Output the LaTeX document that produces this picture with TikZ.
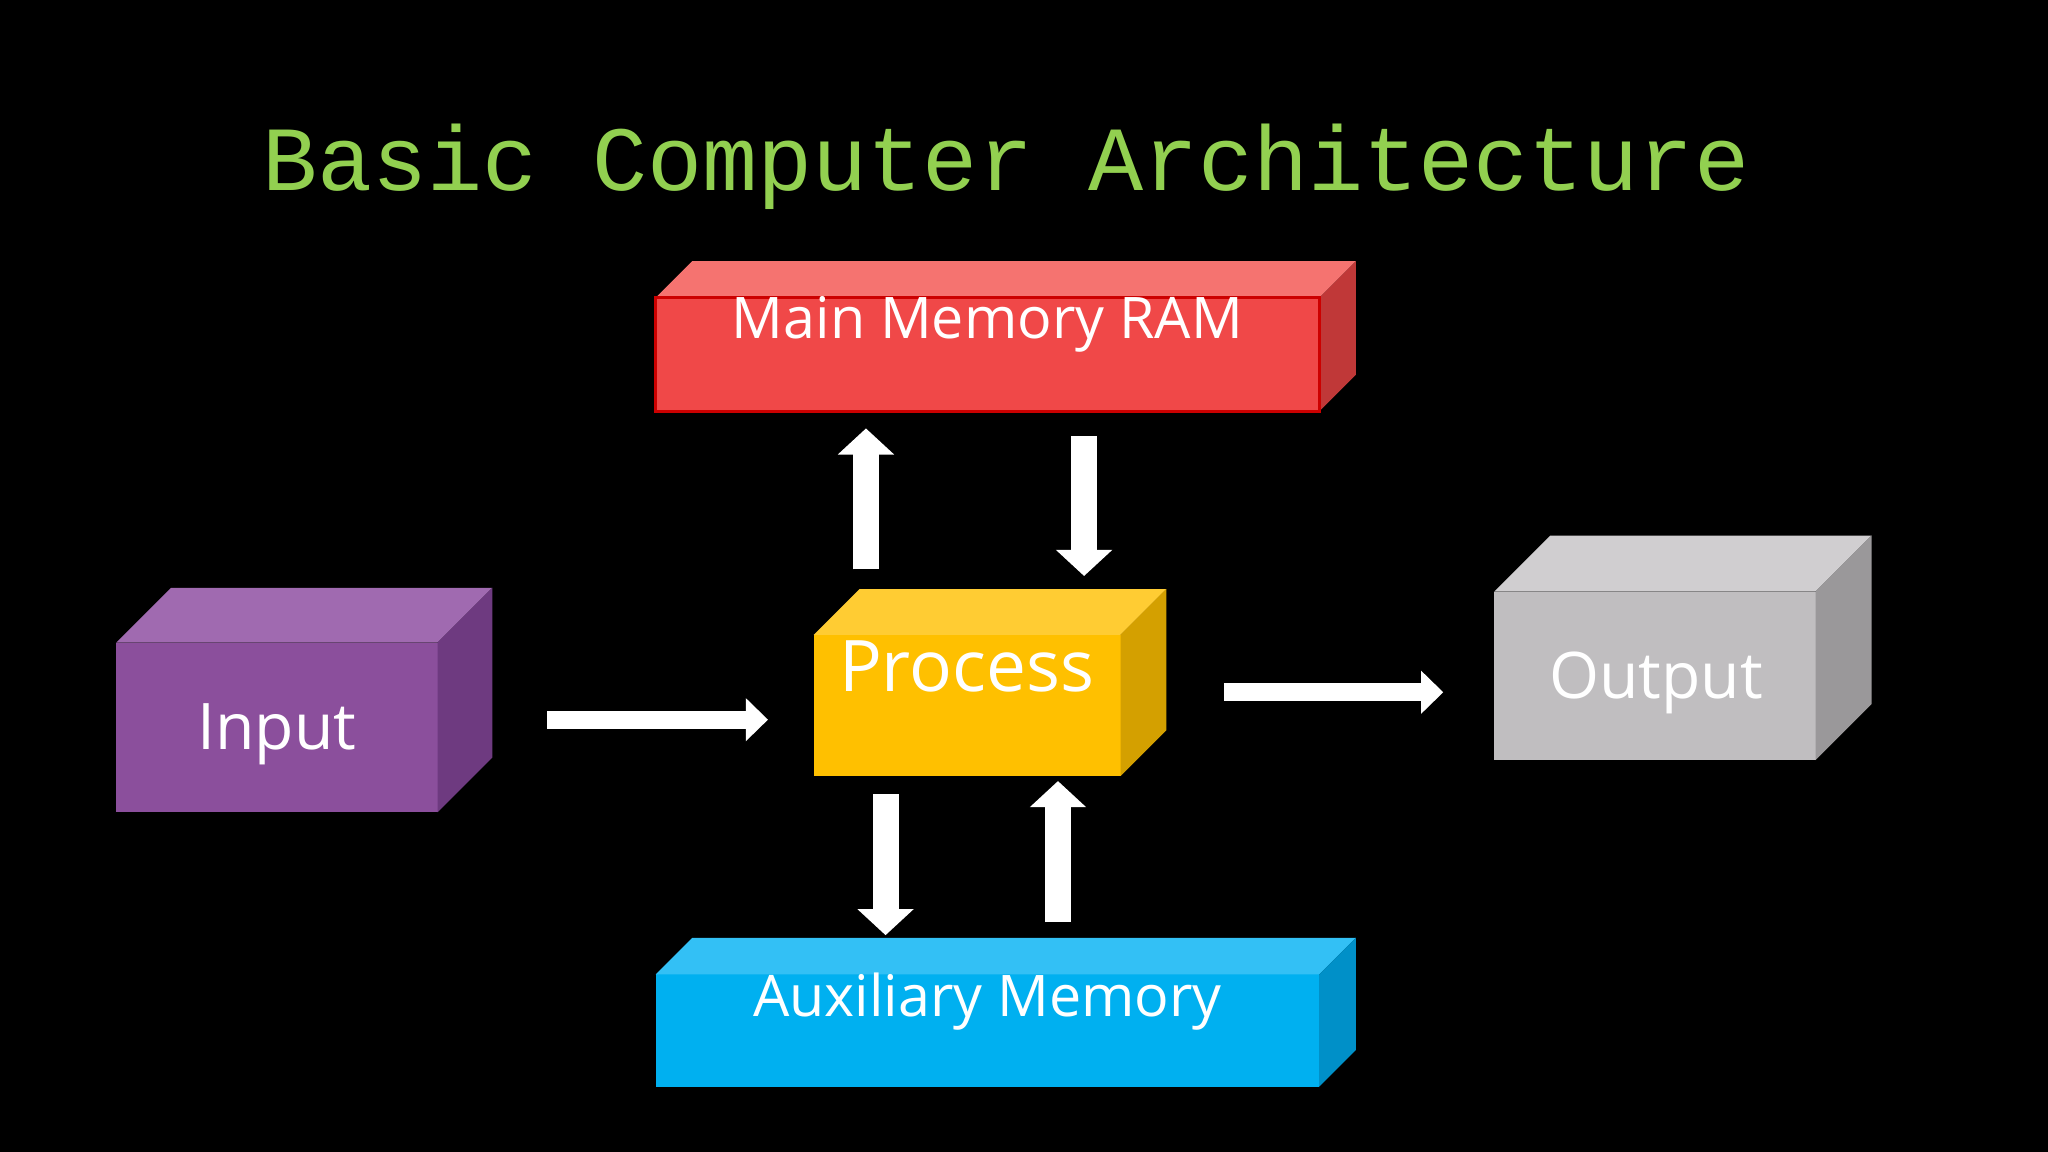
\documentclass[tikz,border=0pt]{standalone}
\usepackage{fontspec}
\setmainfont{Open Sans}
\newfontfamily\monof{Liberation Mono}
\usetikzlibrary{arrows.meta}
\definecolor{ttl}{HTML}{92D050}
\definecolor{rf}{RGB}{240,72,72}\definecolor{rt}{RGB}{245,115,112}\definecolor{rs}{RGB}{192,56,56}
\definecolor{yf}{RGB}{255,192,0}\definecolor{yt}{RGB}{255,204,51}\definecolor{ys}{RGB}{212,160,0}
\definecolor{pf}{RGB}{139,79,156}\definecolor{pt}{RGB}{160,106,176}\definecolor{ps}{RGB}{110,58,128}
\definecolor{gf}{RGB}{192,190,192}\definecolor{gt}{RGB}{208,206,208}\definecolor{gs}{RGB}{154,152,154}
\definecolor{bf}{RGB}{0,176,240}\definecolor{bt}{RGB}{51,192,245}\definecolor{bs}{RGB}{0,144,200}
\begin{document}
\begin{tikzpicture}[x=0.02cm,y=-0.02cm,
  lbl/.style={text=white,inner sep=0pt},
  varr/.style={white,line width=20*0.02cm,-{Triangle[width=0.84cm,length=0.4cm]}},
  harr/.style={white,line width=14*0.02cm,-{Triangle[width=0.64cm,length=0.34cm]}}]
\fill[black] (0,0) rectangle (1568,882);
\newcommand{\mybox}[8]{%
  \fill[#6] (#1,#2) rectangle (#3,#4);
  \fill[#7] (#1,#2) -- ++(#5,-#5) -- (#3+#5,#2-#5) -- (#3,#2) -- cycle;
  \fill[#8] (#3,#2) -- (#3+#5,#2-#5) -- (#3+#5,#4-#5) -- (#3,#4) -- cycle;}
\node[lbl,text=ttl,font=\monof\fontsize{40}{48}\selectfont] (title) at (770,128) {Basic Computer Architecture};
\mybox{502}{228}{1010}{315}{28}{rf}{rt}{rs}
\draw[red!80!black,line width=0.04cm] (502,228) rectangle (1010,315);
\node[lbl,font=\fontsize{25}{30}\selectfont] (ram) at (756,248) {Main Memory RAM};
\mybox{623}{486}{858}{594}{35}{yf}{yt}{ys}
\node[lbl,font=\fontsize{31}{36}\selectfont] (proc) at (740,510) {Process};
\mybox{89}{492}{335}{622}{42}{pf}{pt}{ps}
\node[lbl,font=\fontsize{28}{34}\selectfont] (in) at (212,562) {Input};
\mybox{1144}{453}{1390}{582}{43}{gf}{gt}{gs}
\node[lbl,font=\fontsize{28}{34}\selectfont] (out) at (1268,523) {Output};
\mybox{502}{746}{1010}{832}{28}{bf}{bt}{bs}
\node[lbl,font=\fontsize{25}{30}\selectfont] (aux) at (756,767) {Auxiliary Memory};
\coordinate (a1) at (663,436); \coordinate (a2) at (663,328);
\coordinate (b1) at (830,334); \coordinate (b2) at (830,441);
\coordinate (c1) at (678,608); \coordinate (c2) at (678,716);
\coordinate (d1) at (810,706); \coordinate (d2) at (810,598);
\coordinate (e1) at (419,551); \coordinate (e2) at (588,551);
\coordinate (f1) at (937,530); \coordinate (f2) at (1105,530);
\draw[varr] (a1) -- (a2);
\draw[varr] (b1) -- (b2);
\draw[varr] (c1) -- (c2);
\draw[varr] (d1) -- (d2);
\draw[harr] (e1) -- (e2);
\draw[harr] (f1) -- (f2);
\end{tikzpicture}
\end{document}
